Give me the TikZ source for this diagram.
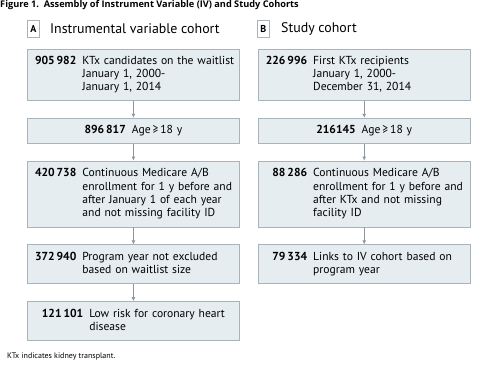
\documentclass[tikz,border=0pt]{standalone}
\usepackage{fontspec}
\setmainfont{PT Sans}
\newfontfamily\titlefont{Open Sans}
\usetikzlibrary{arrows.meta,positioning}

\definecolor{boxfill}{HTML}{E5EDF1}
\definecolor{boxline}{HTML}{A9B3B9}
\definecolor{arrowgray}{HTML}{8F979C}

% count + description, number column of fixed width
\newcommand{\cnt}[2]{\mbox{\makebox[42pt][r]{\bfseries #1}\hspace{6pt}\begin{tabular}[t]{@{}l@{}}#2\end{tabular}}}

\begin{document}
\begin{tikzpicture}[
  x=1pt, y=-1pt,
  node distance=17pt,
  every node/.style={font=\fontsize{11.6}{13.3}\selectfont},
  box/.style={draw=boxline, fill=boxfill, line width=0.8pt, text width=198pt, inner xsep=7pt, inner ysep=0pt, align=left},
  cbox/.style={box, align=center},
  tag/.style={draw=boxline, line width=0.8pt, minimum width=12pt, minimum height=17pt, inner sep=0pt, font=\fontsize{10}{11}\selectfont\bfseries},
  head/.style={inner sep=0pt, anchor=west, font=\fontsize{13.9}{15}\selectfont},
  flow/.style={draw=arrowgray, line width=0.8pt, -{Latex[length=4pt,width=4pt]}}
]
\useasboundingbox (0,0) rectangle (500,383);

\node[inner sep=0pt, anchor=north west, font=\fontsize{9.2}{10}\titlefont\bfseries] (title) at (0,0.5)
  {Figure 1.\ \ Assembly of Instrument Variable (IV) and Study Cohorts};

% A: instrumental variable cohort
\node[tag, anchor=north west] (tagA) at (27,20) {A};
\node[head] (headA) at (50,28.5) {Instrumental variable cohort};

\node[box, anchor=north west, minimum height=51pt] (a1) at (27,49)
  {\cnt{905\,982}{KTx candidates on the waitlist\\January 1, 2000-\\January 1, 2014}};
\node[cbox, below=of a1, minimum height=25pt] (a2)
  {\textbf{896\,817}\hspace{6pt}Age\,≥\,18 y};
\node[box, below=of a2, minimum height=66pt] (a3)
  {\cnt{420\,738}{Continuous Medicare A/B\\enrollment for 1 y before and\\after January 1 of each year\\and not missing facility ID}};
\node[box, below=of a3, minimum height=39pt] (a4)
  {\cnt{372\,940}{Program year not excluded\\based on waitlist size}};
\node[cbox, below=of a4, minimum height=39pt] (a5)
  {\textbf{121\,101}\hspace{6pt}\begin{tabular}[t]{@{}l@{}}Low risk for coronary heart\\disease\end{tabular}};

% B: study cohort
\node[tag, anchor=north west] (tagB) at (257,20) {B};
\node[head] (headB) at (281,28.5) {Study cohort};

\node[box, right=18pt of a1, minimum height=51pt] (b1)
  {\cnt{226\,996}{First KTx recipients\\January 1, 2000-\\December 31, 2014}};
\node[cbox, below=of b1, minimum height=25pt] (b2)
  {\textbf{216145}\hspace{6pt}Age\,≥\,18 y};
\node[box, below=of b2, minimum height=66pt] (b3)
  {\cnt{88\,286}{Continuous Medicare A/B\\enrollment for 1 y before and\\after KTx and not missing\\facility ID}};
\node[box, below=of b3, minimum height=39pt] (b4)
  {\cnt{79\,334}{Links to IV cohort based on\\program year}};

\node[inner sep=0pt, anchor=west, font=\fontsize{8}{9}\selectfont] (note) at (7,356)
  {KTx indicates kidney transplant.};

\draw[flow] (a1) -- (a2);
\draw[flow] (a2) -- (a3);
\draw[flow] (a3) -- (a4);
\draw[flow] (a4) -- (a5);

\draw[flow] (b1) -- (b2);
\draw[flow] (b2) -- (b3);
\draw[flow] (b3) -- (b4);

\end{tikzpicture}
\end{document}
